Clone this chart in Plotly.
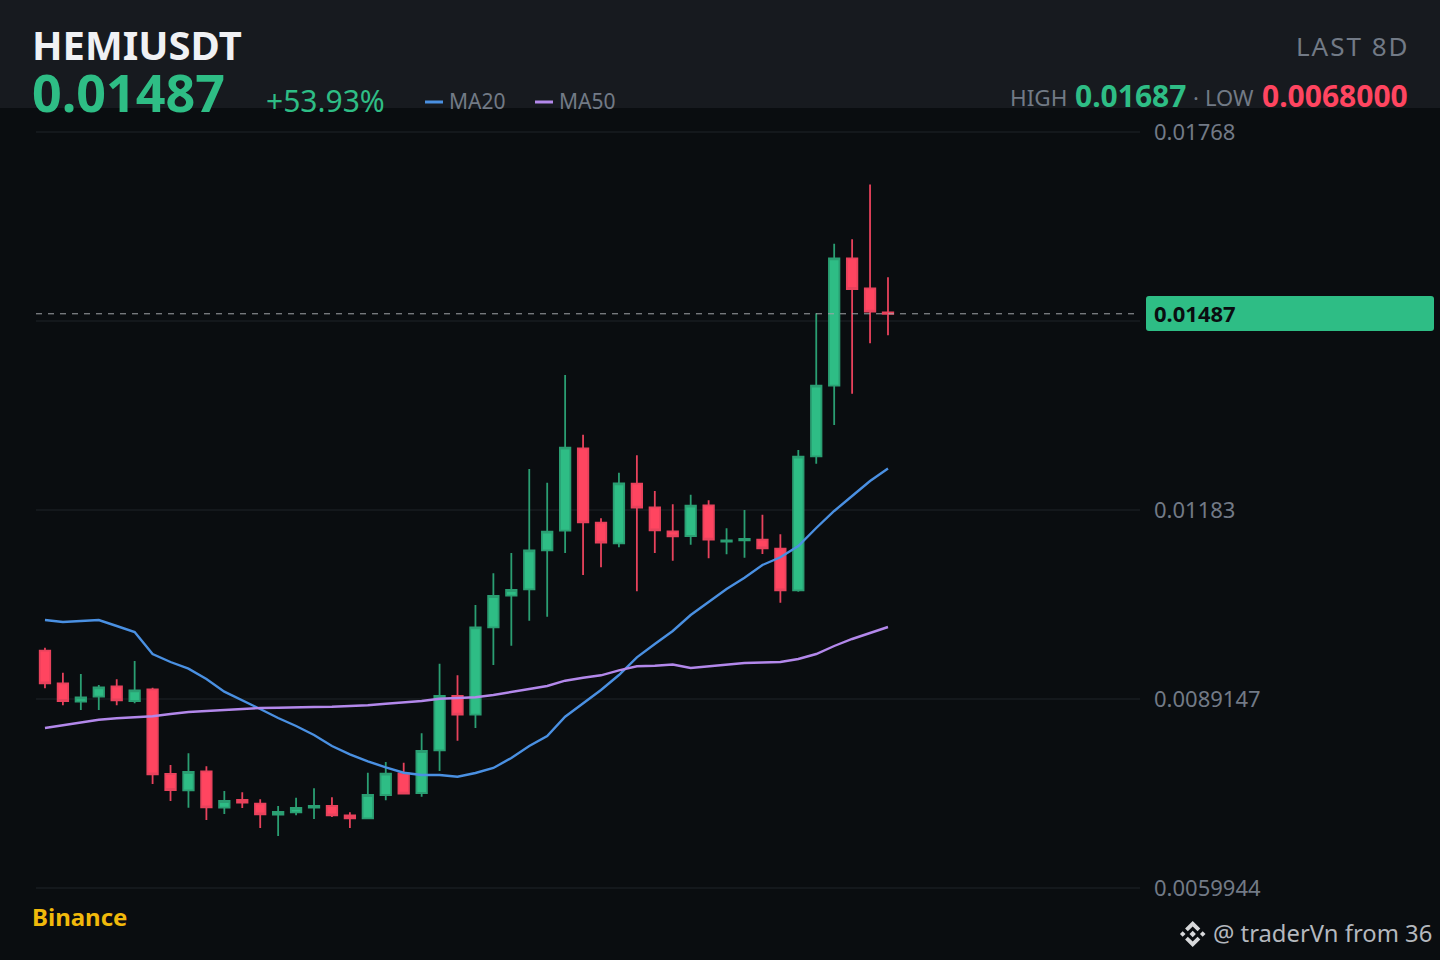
import plotly.graph_objects as go

# 4h candles, last 8 days
candle_index = list(range(48))
open_price = [0.0096624, 0.0091584, 0.0088741, 0.0089513, 0.0091121, 0.0088849, 0.0090657, 0.0077565,
              0.0075046, 0.0077982, 0.0072356, 0.0073546, 0.0072974, 0.0071274, 0.0071645, 0.0072356,
              0.0072619, 0.0071181, 0.0070718, 0.0074319, 0.0077673, 0.0074628, 0.0081228, 0.0089622,
              0.0086731, 0.0100241, 0.0105125, 0.0106114, 0.0112143, 0.0115172, 0.0127909, 0.0116409,
              0.0113224, 0.0122437, 0.0118789, 0.0115079, 0.0114353, 0.0119098, 0.0113472, 0.0113688,
              0.0113781, 0.0112390, 0.0105960, 0.0126672, 0.0137585, 0.0157277, 0.0152640, 0.0148929]
high_price = [0.0097087, 0.0093223, 0.0093022, 0.0091322, 0.0092203, 0.0095032, 0.0090905, 0.0078956,
              0.0080765, 0.0078755, 0.0074937, 0.0074736, 0.0073654, 0.0072619, 0.0073902, 0.0075355,
              0.0073964, 0.0071645, 0.0077766, 0.0079420, 0.0079312, 0.0083856, 0.0094614, 0.0092821,
              0.0103688, 0.0108588, 0.0111725, 0.0124709, 0.0122592, 0.0139239, 0.0130011, 0.0117089,
              0.0124137, 0.0126827, 0.0121309, 0.0119253, 0.0120737, 0.0119871, 0.0115544, 0.0118372,
              0.0117645, 0.0114616, 0.0127646, 0.0148776, 0.0159534, 0.0160214, 0.0168700, 0.0154341]
low_price = [0.0090812, 0.0088184, 0.0087458, 0.0087458, 0.0088184, 0.0088493, 0.0076019, 0.0073392,
             0.0072356, 0.0070455, 0.0071382, 0.0072310, 0.0069218, 0.0068000, 0.0071181, 0.0070609,
             0.0070919, 0.0069218, 0.0070563, 0.0073500, 0.0074474, 0.0074056, 0.0078029, 0.0082712,
             0.0084675, 0.0094413, 0.0097397, 0.0101261, 0.0101879, 0.0111725, 0.0108325, 0.0109515,
             0.0112606, 0.0105805, 0.0111725, 0.0110535, 0.0113008, 0.0110906, 0.0111524, 0.0110999,
             0.0111571, 0.0104043, 0.0105743, 0.0125529, 0.0131510, 0.0136348, 0.0144139, 0.0145375]
close_price = [0.0091584, 0.0088849, 0.0089421, 0.0090966, 0.0088957, 0.0090503, 0.0077519, 0.0075092,
               0.0077874, 0.0072418, 0.0073392, 0.0073129, 0.0071336, 0.0071691, 0.0072310, 0.0072619,
               0.0071181, 0.0070718, 0.0074319, 0.0077611, 0.0074520, 0.0081120, 0.0089622, 0.0086731,
               0.0100241, 0.0105079, 0.0106006, 0.0112143, 0.0115018, 0.0128002, 0.0116471, 0.0113317,
               0.0122499, 0.0118727, 0.0115234, 0.0114307, 0.0119036, 0.0113781, 0.0113688, 0.0113889,
               0.0112451, 0.0105960, 0.0126610, 0.0137585, 0.0157277, 0.0152532, 0.0149023, 0.0148700]

ma20 = [0.0101369, 0.0101060, 0.0101214, 0.0101369, 0.0100442, 0.0099514, 0.0096114, 0.0094877,
        0.0093841, 0.0092249, 0.0090286, 0.0089003, 0.0087612, 0.0086221, 0.0084985, 0.0083593,
        0.0081893, 0.0080610, 0.0079528, 0.0078601, 0.0077766, 0.0077411, 0.0077411, 0.0077148,
        0.0077720, 0.0078493, 0.0080038, 0.0081893, 0.0083439, 0.0086422, 0.0088493, 0.0090549,
        0.0092868, 0.0095604, 0.0097659, 0.0099669, 0.0102142, 0.0104198, 0.0106161, 0.0107907,
        0.0109870, 0.0111061, 0.0112807, 0.0115590, 0.0118217, 0.0120536, 0.0122854, 0.0124787]
ma50 = [0.0084675, 0.0085093, 0.0085495, 0.0085958, 0.0086175, 0.0086329, 0.0086484, 0.0086839,
        0.0087151, 0.0087303, 0.0087458, 0.0087659, 0.0087767, 0.0087813, 0.0087813, 0.0087921,
        0.0087968, 0.0088076, 0.0088184, 0.0088431, 0.0088648, 0.0088849, 0.0089204, 0.0089312,
        0.0089421, 0.0089776, 0.0090286, 0.0090704, 0.0091167, 0.0091987, 0.0092450, 0.0092821,
        0.0093594, 0.0094212, 0.0094305, 0.0094491, 0.0093950, 0.0094181, 0.0094491, 0.0094722,
        0.0094800, 0.0094877, 0.0095341, 0.0096114, 0.0097350, 0.0098432, 0.0099360, 0.0100287]

tick_values = [0.0059944, 0.0089147, 0.01183, 0.014759, 0.01768]
tick_labels = ["0.0059944", "0.0089147", "0.01183", "", "0.01768"]
last_price = 0.01487

GREEN = "#2EBD85"
RED = "#FF4560"
BG = "#0A0D10"
HEADER = "#171A1F"
GREY = "#727A86"
FONT = "Noto Sans"

W, H = 1440, 960
M_L, M_R, M_T, M_B = 36, 300, 120, 60


# pixel position on the page -> paper coords
def px(x):
    return (x - M_L) / (W - M_L - M_R)


def py(y):
    return 1 - (y - M_T) / (H - M_T - M_B)


def poly(points, cx, cy):
    s = "M" + " L".join(f"{px(cx + a):.5f},{py(cy + b):.5f}" for a, b in points)
    return s + " Z"


fig = go.Figure()

fig.add_trace(go.Candlestick(
    x=candle_index,
    open=open_price,
    high=high_price,
    low=low_price,
    close=close_price,
    increasing=dict(line=dict(color="#2A9E72", width=1.8), fillcolor=GREEN),
    decreasing=dict(line=dict(color="#E8425C", width=1.8), fillcolor=RED),
    showlegend=False,
))
fig.add_trace(go.Scatter(x=candle_index, y=ma20, mode="lines", name="MA20",
                         line=dict(color="#4A90E2", width=2.4), showlegend=False))
fig.add_trace(go.Scatter(x=candle_index, y=ma50, mode="lines", name="MA50",
                         line=dict(color="#B388EB", width=2.4), showlegend=False))

shapes = [
    # header band
    dict(type="rect", xref="paper", yref="paper", x0=px(0), x1=px(W), y0=py(0), y1=py(108),
         fillcolor=HEADER, line_width=0, layer="below"),
    # last price line
    dict(type="line", xref="paper", yref="y", x0=0, x1=px(1134), y0=last_price, y1=last_price,
         line=dict(color="#A0A4A8", width=1, dash="6px,6px")),
    # legend swatches
    dict(type="rect", xref="paper", yref="paper", x0=px(425), x1=px(443), y0=py(100.5), y1=py(103.5),
         fillcolor="#4A90E2", line_width=0),
    dict(type="rect", xref="paper", yref="paper", x0=px(535), x1=px(553), y0=py(100.5), y1=py(103.5),
         fillcolor="#B388EB", line_width=0),
]

# price tag, rounded corners
tag_l, tag_r, tag_t, tag_b, r = 1146, 1434, 296, 331, 3
tag_path = (f"M{px(tag_l + r)},{py(tag_t)} L{px(tag_r - r)},{py(tag_t)} Q{px(tag_r)},{py(tag_t)} {px(tag_r)},{py(tag_t + r)} "
            f"L{px(tag_r)},{py(tag_b - r)} Q{px(tag_r)},{py(tag_b)} {px(tag_r - r)},{py(tag_b)} "
            f"L{px(tag_l + r)},{py(tag_b)} Q{px(tag_l)},{py(tag_b)} {px(tag_l)},{py(tag_b - r)} "
            f"L{px(tag_l)},{py(tag_t + r)} Q{px(tag_l)},{py(tag_t)} {px(tag_l + r)},{py(tag_t)} Z")
shapes.append(dict(type="path", xref="paper", yref="paper", path=tag_path, fillcolor=GREEN, line_width=0))

# exchange logo next to the watermark
logo_parts = [
    [(0, -3.2), (3.2, 0), (0, 3.2), (-3.2, 0)],
    [(-10, -2.8), (-7.2, 0), (-10, 2.8), (-12.8, 0)],
    [(10, -2.8), (12.8, 0), (10, 2.8), (7.2, 0)],
    [(0, -13), (7.6, -5.4), (4.9, -2.7), (0, -7.6), (-4.9, -2.7), (-7.6, -5.4)],
    [(0, 13), (7.6, 5.4), (4.9, 2.7), (0, 7.6), (-4.9, 2.7), (-7.6, 5.4)],
]
for part in logo_parts:
    shapes.append(dict(type="path", xref="paper", yref="paper", path=poly(part, 1192.7, 934),
                       fillcolor="#D8D9DB", line_width=0))

# text, x, y, size, color, bold, anchor
labels = [
    ("HEMIUSDT", 31, 45, 40, "#F0F1F4", True, "left"),
    ("0.01487", 31, 92, 52, GREEN, True, "left"),
    ("+53.93%", 265, 100.5, 30, GREEN, False, "left"),
    ("MA20", 448, 100.5, 21, GREY, False, "left"),
    ("MA50", 558, 100.5, 21, GREY, False, "left"),
    ("LAST 8D", 1352.5, 46, 26, GREY, False, "center"),
    ("HIGH", 1067.5, 97, 22.5, GREY, False, "right"),
    ("0.01687", 1187, 95, 30, GREEN, True, "right"),
    ("·", 1196, 97, 22, GREY, False, "center"),
    ("LOW", 1255, 97, 22, GREY, False, "right"),
    ("0.0068000", 1409, 95, 30, RED, True, "right"),
    ("0.01487", 1153, 312.5, 22, "#0A0D10", True, "left"),
    ("Binance", 31, 917, 24, "#F0B90B", True, "left"),
    ("@ traderVn from 36", 1432.5, 933, 23.8, "#B4B8BE", False, "right"),
]
annotations = [
    dict(text=t, x=px(x), y=py(y), xref="paper", yref="paper", xanchor=a, yanchor="middle", showarrow=False,
         borderpad=0, font=dict(family=FONT, size=s, color=c, weight="bold" if b else "normal"))
    for t, x, y, s, c, b, a in labels
]

fig.update_layout(
    width=W,
    height=H,
    margin=dict(l=M_L, r=M_R, t=M_T, b=M_B),
    paper_bgcolor=BG,
    plot_bgcolor=BG,
    boxgroupgap=0.165,
    shapes=shapes,
    annotations=annotations,
    font=dict(family=FONT),
    xaxis=dict(range=[-0.5, 61.05], rangeslider=dict(visible=False), showgrid=False, zeroline=False,
               showticklabels=False, ticks="", showline=False),
    yaxis=dict(range=[0.0058089, 0.0178655], side="right", tickmode="array", tickvals=tick_values,
               ticktext=tick_labels, showgrid=True, gridcolor="#14181C", gridwidth=1.5, zeroline=False,
               showline=False, ticks="", ticklabelstandoff=13, tickfont=dict(family=FONT, size=22, color=GREY),
               automargin=False),
)

# no page margin, and the letter spacing on the LAST 8D label
post = """
document.body.style.margin = '0';
document.querySelectorAll('.annotation-text').forEach(function (t) {
    if (t.textContent === 'LAST 8D') { t.style.letterSpacing = '2px'; }
});
"""
fig.write_html("out.html", post_script=post, config=dict(displayModeBar=False))
